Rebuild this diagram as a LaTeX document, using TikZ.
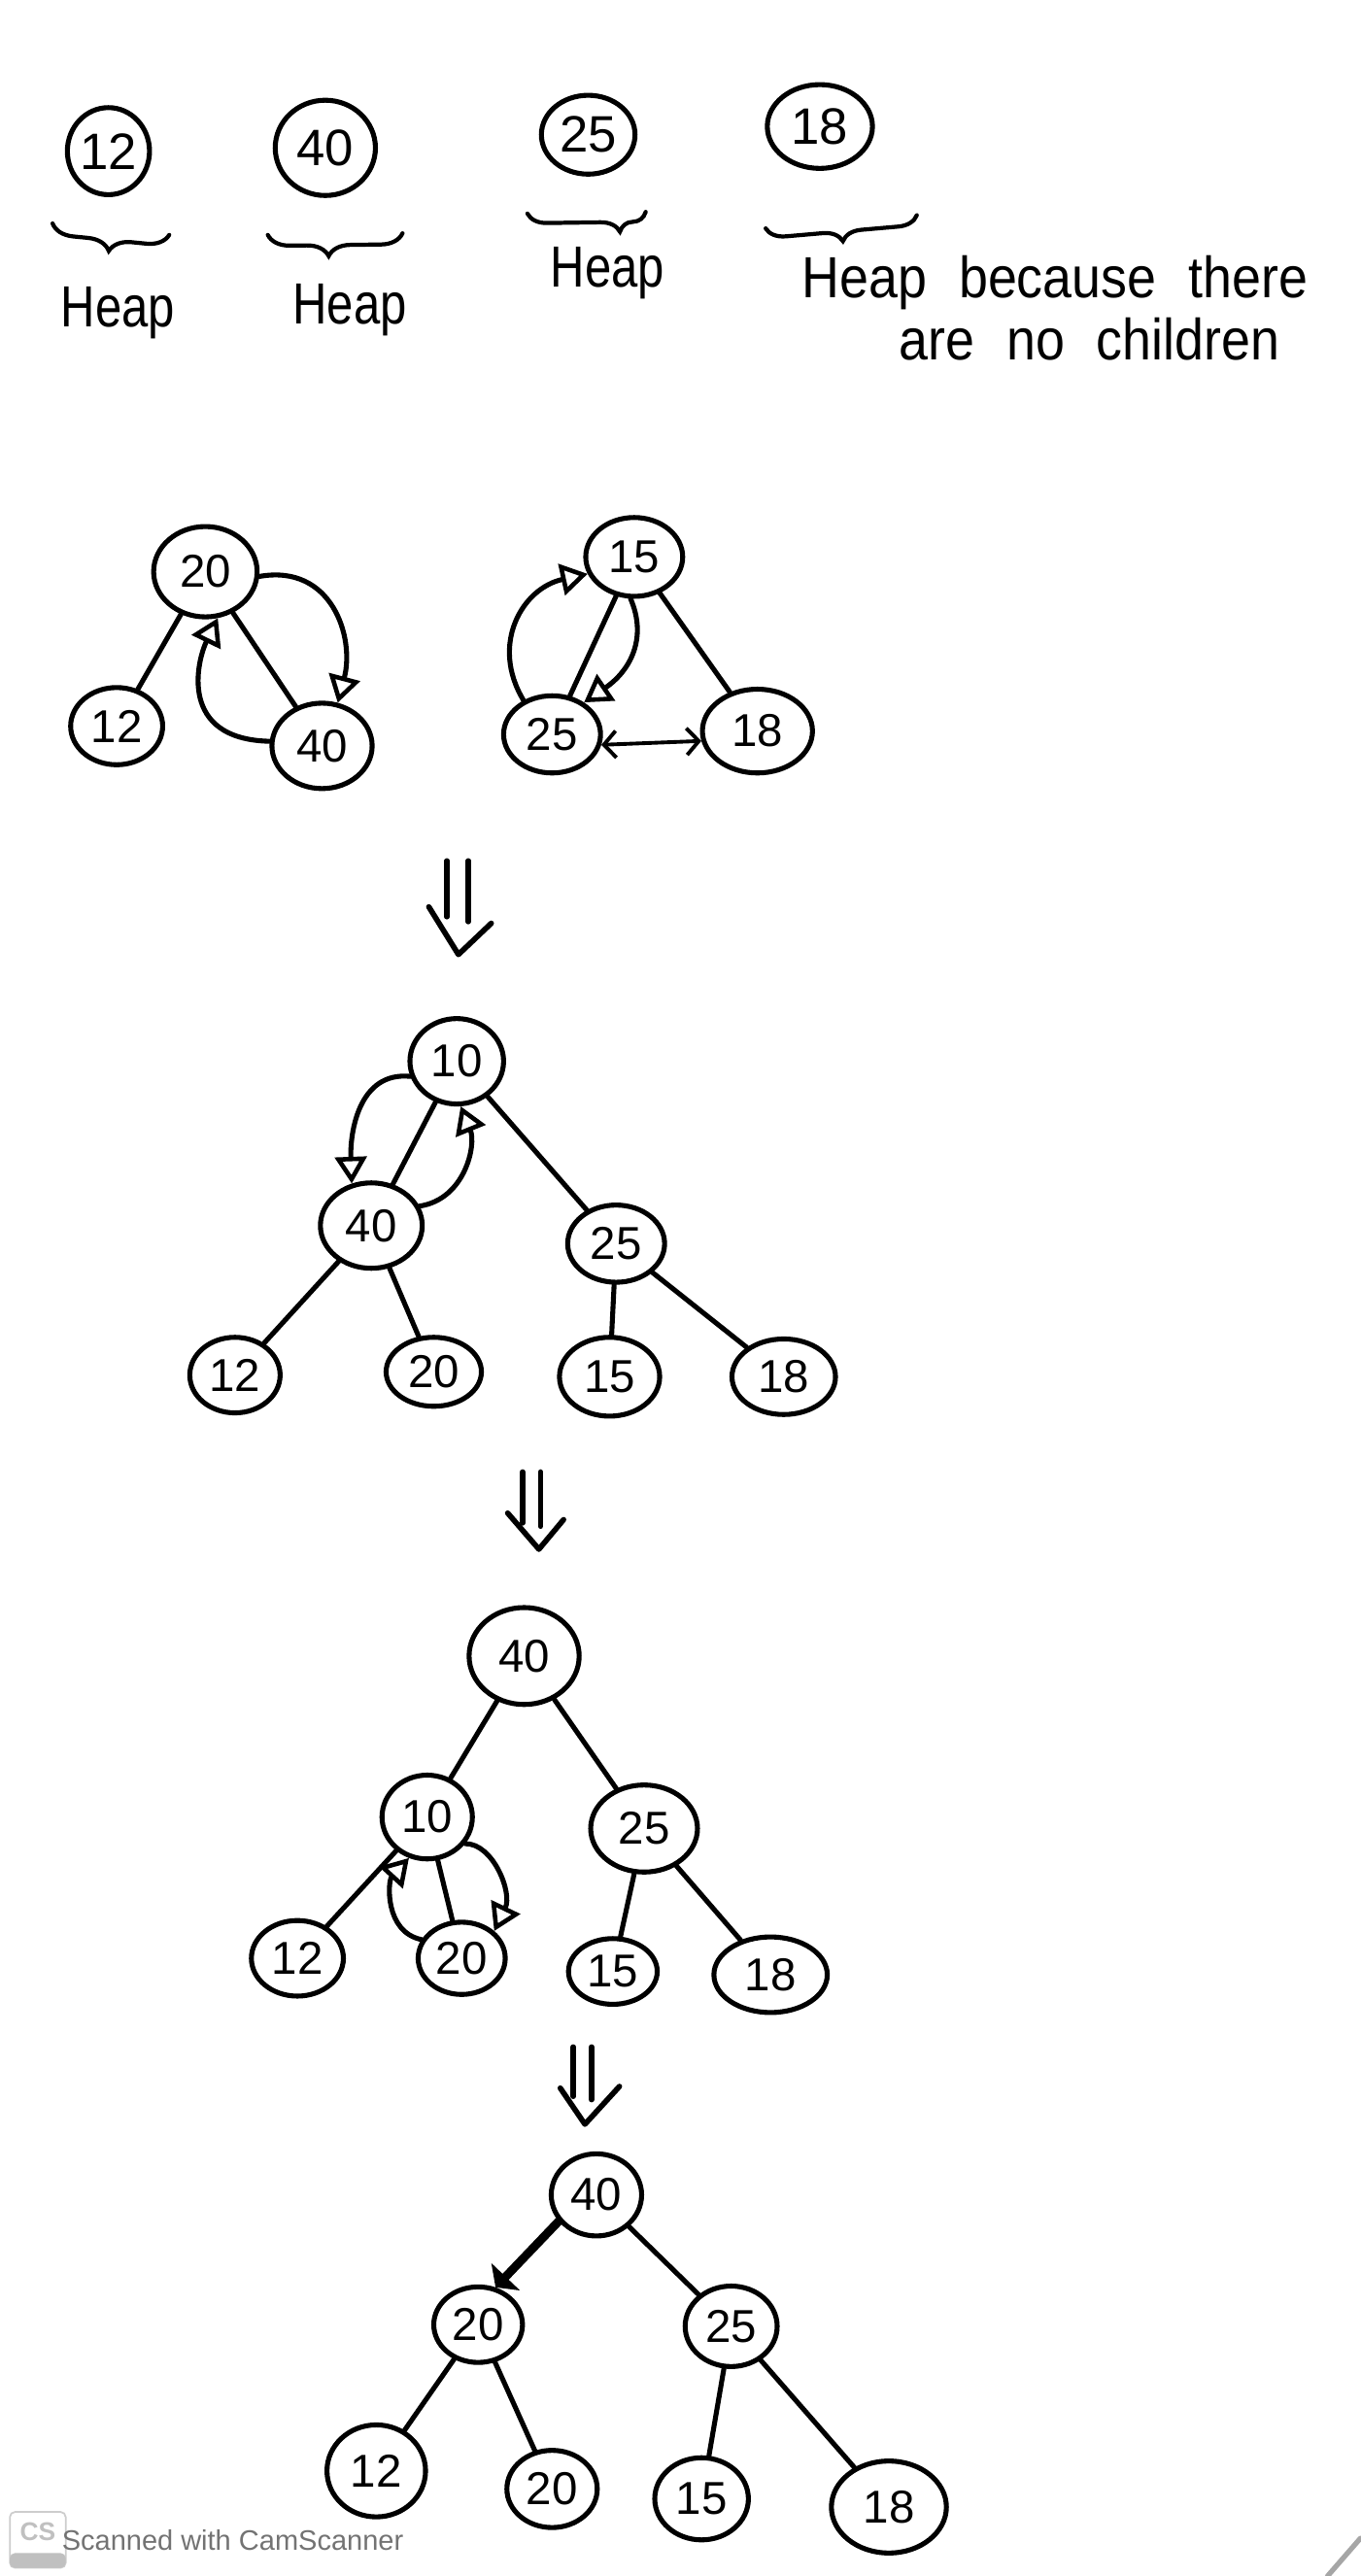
\documentclass[tikz,border=0pt]{standalone}
\usepackage{fontspec}
\setmainfont{Liberation Sans}
\newfontfamily\handnum{Liberation Sans}
\newfontfamily\hand[FakeStretch=0.82]{Liberation Sans}
\newfontfamily\handw[FakeStretch=0.9,WordSpace=2.2]{Liberation Sans}
\newfontfamily\wmfont{Liberation Sans}
\usetikzlibrary{shapes.geometric,arrows.meta,decorations.pathreplacing}
\definecolor{wmgray}{RGB}{115,115,115}
\definecolor{logogray}{RGB}{192,192,192}
\definecolor{logoedge}{RGB}{205,205,205}
\begin{document}
\begin{tikzpicture}[x=0.033816cm,y=-0.033816cm,
  ink/.style={line width=2.9pt, line cap=round, line join=round},
  hn/.style 2 args={ellipse, draw, line width=2.9pt, inner sep=0pt,
     minimum width=#1*0.033816cm, minimum height=#2*0.033816cm,
     font=\handnum\fontsize{27}{27}\selectfont},
  hnbig/.style={font=\handnum\fontsize{30}{30}\selectfont},
  link/.style={ink},
  swaparr/.style={ink, -{Triangle[open, length=0.55cm, width=0.65cm, line width=2.6pt]}},
  bothtip/.style={ink, line width=2.2pt, {Straight Barb[length=0.25cm, width=0.55cm]}-{Straight Barb[length=0.25cm, width=0.55cm]}},
  downarr/.style={line width=3.2pt, line cap=round, line join=round},
  hbrace/.style={line width=2.4pt, line cap=round, decorate, decoration={brace, mirror, amplitude=#1}},
  heaptxt/.style={anchor=base west, inner sep=0pt, font=\hand\fontsize{34}{34}\selectfont},
  heapwide/.style={anchor=base west, inner sep=0pt, font=\handw\fontsize{34}{34}\selectfont},
  thicklink/.style={line width=5pt, line cap=round, -{Triangle[length=0.3cm, width=0.8cm]}}
]
\fill[white] (0,0) rectangle (828,1568);
\path[use as bounding box] (0,0) rectangle (828,1568);

% ---------- top row ----------
\node[hn={50}{53}, hnbig] (a1) at (66,92) {12};
\node[hn={61}{58}, hnbig] (a2) at (198,90) {40};
\node[hn={57}{48}, hnbig] (a3) at (358,82) {25};
\node[hn={64}{51}, hnbig] (a4) at (499,77) {18};

\draw[hbrace=0.45cm] (32,136) -- (103,143);
\draw[hbrace=0.45cm, decoration={aspect=0.45}] (163,143) -- (245,142);
\draw[hbrace=0.4cm, decoration={aspect=0.78}] (321,130) -- (393,129);
\draw[hbrace=0.4cm] (466,139) -- (558,131);

\node[heaptxt] (h1) at (37,199) {Heap};
\node[heaptxt] (h2) at (178,197) {Heap};
\node[heaptxt] (h3) at (335,175) {Heap};
\node[heapwide] (h4) at (488,181) {Heap because there};
\node[heapwide] (h5) at (547,219) {are no children};

% ---------- tree 2 ----------
\node[hn={63}{55}] (b1) at (125,348) {20};
\node[hn={56}{47}] (b2) at (71,442) {12};
\node[hn={61}{52}] (b3) at (196,454) {40};
\node[hn={59}{48}] (b4) at (386,339) {15};
\node[hn={59}{47}] (b5) at (336,447) {25};
\node[hn={67}{51}] (b6) at (461,445) {18};

\draw[link] (b1) -- (b2);
\draw[link] (b1) -- (b3);
\draw[link] (b4) -- (b5);
\draw[link] (b4) -- (b6);
\draw[swaparr] (b1.-5) .. controls (202,343) and (216,388) .. (b3.70);
\draw[swaparr] (b3.175) .. controls (108,450) and (120,402) .. (b1.-75);
\draw[swaparr] (b5.130) .. controls (298,392) and (318,358) .. (b4.200);
\draw[swaparr] (b4.-95) .. controls (394,388) and (384,408) .. (b5.45);
\draw[bothtip] (b5.-12) -- (b6.190);

% ---------- arrow 1 ----------
\draw[downarr] (272,524) -- (272,558);
\draw[downarr] (285,524) -- (285,561);
\draw[downarr] (261,552) -- (279,581) -- (299,562);

% ---------- tree 3 ----------
\node[hn={57}{52}] (c1) at (278,646) {10};
\node[hn={62}{52}] (c2) at (226,746) {40};
\node[hn={59}{47}] (c3) at (375,757) {25};
\node[hn={55}{46}] (c4) at (143,837) {12};
\node[hn={58}{42}] (c5) at (264,835) {20};
\node[hn={61}{48}] (c6) at (371,838) {15};
\node[hn={63}{46}] (c7) at (477,838) {18};

\draw[link] (c1) -- (c2);
\draw[link] (c1) -- (c3);
\draw[link] (c2) -- (c4);
\draw[link] (c2) -- (c5);
\draw[link] (c3) -- (c6);
\draw[link] (c3) -- (c7);
\draw[swaparr] (c1.198) .. controls (218,652) and (213,690) .. (c2.115);
\draw[swaparr] (c2.22) .. controls (283,730) and (290,697) .. (c1.-85);

% ---------- arrow 2 ----------
\draw[downarr] (318,896) -- (318,927);
\draw[downarr] (329,896) -- (329,929);
\draw[downarr] (309,921) -- (328,943) -- (343,925);

% ---------- tree 4 ----------
\node[hn={67}{59}] (d1) at (319,1008) {40};
\node[hn={55}{51}] (d2) at (260,1106) {10};
\node[hn={65}{53}] (d3) at (392,1113) {25};
\node[hn={56}{46}] (d4) at (181,1192) {12};
\node[hn={53}{44}] (d5) at (281,1192) {20};
\node[hn={54}{40}] (d6) at (373,1200) {15};
\node[hn={69}{46}] (d7) at (469,1202) {18};

\draw[link] (d1) -- (d2);
\draw[link] (d1) -- (d3);
\draw[link] (d2) -- (d4);
\draw[link] (d2) -- (d5);
\draw[link] (d3) -- (d6);
\draw[link] (d3) -- (d7);
\draw[swaparr] (d5.155) .. controls (234,1176) and (236,1145) .. (d2.-114);
\draw[swaparr] (d2.-35) .. controls (300,1122) and (312,1152) .. (d5.40);

% ---------- arrow 3 ----------
\draw[downarr] (349,1246) -- (349,1276);
\draw[downarr] (360,1246) -- (360,1278);
\draw[downarr] (341,1271) -- (356,1293) -- (377,1270);

% ---------- tree 5 ----------
\node[hn={55}{50}] (e1) at (363,1336) {40};
\node[hn={54}{46}] (e2) at (291,1415) {20};
\node[hn={56}{49}] (e3) at (445,1416) {25};
\node[hn={60}{56}] (e4) at (229,1504) {12};
\node[hn={55}{47}] (e5) at (336,1515) {20};
\node[hn={57}{50}] (e6) at (427,1521) {15};
\node[hn={70}{56}] (e7) at (541,1526) {18};

\draw[thicklink] (e1.215) -- (e2.65);
\draw[link] (e1) -- (e3);
\draw[link] (e2) -- (e4);
\draw[link] (e2) -- (e5);
\draw[link] (e3) -- (e6);
\draw[link] (e3) -- (e7);

% ---------- scanner watermark ----------
\fill[white, draw=logoedge, line width=1pt, rounded corners=3pt] (6,1529) rectangle (40,1563);
\fill[logogray, rounded corners=3pt] (6,1554) rectangle (40,1563);
\node[inner sep=0pt, font=\wmfont\bfseries\fontsize{15}{15}\selectfont, text=logogray] (cs) at (23,1541) {CS};
\node[anchor=base west, inner sep=0pt, font=\wmfont\fontsize{16.5}{16.5}\selectfont, text=wmgray] (wm) at (37.5,1552.5) {Scanned with CamScanner};
\draw[gray!70, line width=3pt, line cap=round] (808,1568) -- (828,1545);
\end{tikzpicture}
\end{document}
